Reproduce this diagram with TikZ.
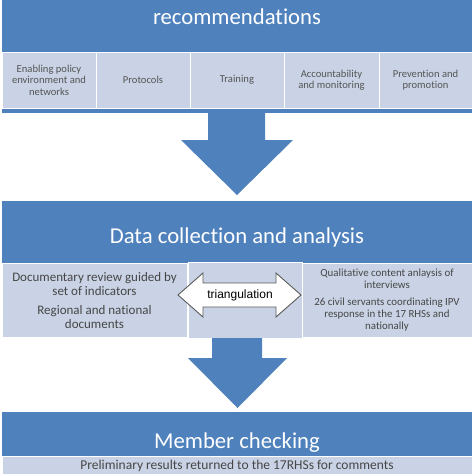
\documentclass[tikz,border=0pt]{standalone}
\usepackage{fontspec}
\setmainfont{Carlito}[Ligatures={NoCommon,NoContextual}]
\newfontfamily\arialf{Liberation Sans}
\definecolor{mblue}{RGB}{79,129,189}
\definecolor{lblue}{RGB}{201,211,229}
\definecolor{txtgray}{RGB}{70,70,70}
\definecolor{toptxt}{RGB}{85,85,85}
\definecolor{outl}{RGB}{90,90,90}
\begin{document}
\begin{tikzpicture}[x=1pt,y=-1pt,
  bluebg/.style={fill=mblue, draw=none, anchor=north west, inner sep=0pt, outer sep=0pt},
  titletext/.style={text=white, anchor=base, inner sep=0pt, font=\fontsize{22.7}{26}\selectfont},
  cellbox/.style={fill=lblue, draw=white, line width=0.8pt, anchor=north west, inner sep=0pt, outer sep=0pt},
  celltext/.style={align=center, inner sep=0pt, text=toptxt, font=\fontsize{10.6}{11.5}\selectfont},
  bigarrow/.style={fill=mblue, draw=none},
  dblarrow/.style={fill=white, draw=outl, line width=0.9pt, line join=miter}
]
\useasboundingbox (0,0) rectangle (474,474);
\fill[white] (0,0) rectangle (474,474);

% ---------- recommendations block
\node[bluebg, minimum width=470pt, minimum height=113pt] (recbg) at (2,0) {};
\node[titletext] (rec) at (237,24) {recommendations};
\node[cellbox, minimum width=94pt, minimum height=56pt] (c1) at (2,52) {};
\node[cellbox, minimum width=94pt, minimum height=56pt] (c2) at (96,52) {};
\node[cellbox, minimum width=94pt, minimum height=56pt] (c3) at (190,52) {};
\node[cellbox, minimum width=95pt, minimum height=56pt] (c4) at (284,52) {};
\node[cellbox, minimum width=93pt, minimum height=56pt] (c5) at (379,52) {};
\node[celltext] (t1) at (c1.center) {Enabling policy\\environment and\\networks};
\node[celltext] (t2) at (c2.center) {Protocols};
\node[celltext] (t3) at (c3.center) {Training};
\node[celltext] (t4) at (c4.center) {Accountability\\and monitoring};
\node[celltext] (t5) at (c5.center) {Prevention and\\promotion};

% ---------- arrow 1
\fill[bigarrow] (208,113) -- (265,113) -- (265,140) -- (293,140) -- (237,195)
  -- (181,140) -- (208,140) -- cycle;

% ---------- data collection block
\node[bluebg, minimum width=470pt, minimum height=62pt] (databg) at (2,201) {};
\node[titletext] (data) at (237,243) {Data collection and analysis};
\node[cellbox, minimum width=185pt, minimum height=74pt] (dl) at (2,263) {};
\node[cellbox, minimum width=114pt, minimum height=76pt] (dm) at (188,262) {};
\node[cellbox, minimum width=170pt, minimum height=74pt] (dr) at (302,263) {};
\node[celltext, text=txtgray, font=\fontsize{13}{13.6}\selectfont] (dltext) at (94.5,300.5)
  {Documentary review guided by\\set of indicators\\[6pt]Regional and national\\documents};
\node[celltext, text=txtgray, font=\fontsize{10.9}{12}\selectfont] (drtext) at (387,300.5)
  {Qualitative content anlaysis of\\interviews\\[5pt]26 civil servants coordinating IPV\\response in the 17 RHSs and\\nationally};

% triangulation double arrow
\draw[dblarrow] (178,295) -- (203,273) -- (203,283) -- (276,283) -- (276,273) -- (301,295)
  -- (276,317) -- (276,307) -- (203,307) -- (203,317) -- cycle;
\node[inner sep=0pt, text=black, font=\arialf\fontsize{12}{14}\selectfont] (tri) at (240,295) {triangulation};

% ---------- arrow 2
\fill[bigarrow] (212,338) -- (262,338) -- (262,358) -- (287,358) -- (237.5,408)
  -- (188,358) -- (212,358) -- cycle;

% ---------- member checking block
\node[bluebg, minimum width=470pt, minimum height=44pt] (membg) at (2,412) {};
\node[titletext] (mem) at (237,448) {Member checking};
\node[cellbox, minimum width=470pt, minimum height=40pt] (ml) at (2,456) {};
\node[celltext, text=txtgray, font=\fontsize{13.5}{16}\selectfont, anchor=base] (mltext) at (237,469.5)
  {Preliminary results returned to the 17RHSs for comments};
\end{tikzpicture}
\end{document}
